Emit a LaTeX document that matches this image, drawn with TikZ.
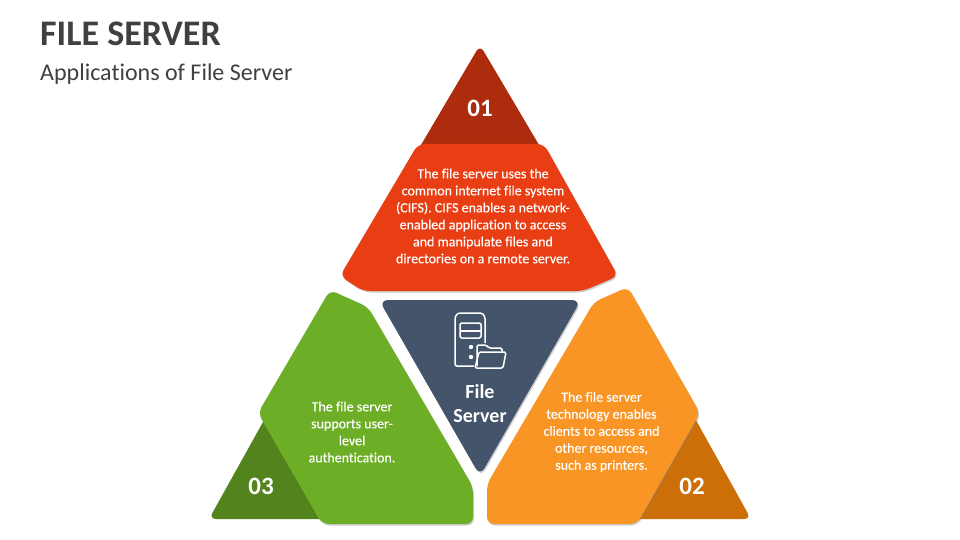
\documentclass[tikz,border=0pt]{standalone}
\usepackage{xcolor}
\usepackage{fontspec}
\setmainfont[Ligatures=NoCommon]{Carlito}
\newfontfamily\bodyfont[FakeBold=0.25,Ligatures=NoCommon]{Carlito}
\usetikzlibrary{shadows,positioning}
\tikzset{every shadow/.style={}}
\definecolor{redmain}{HTML}{E93E14}
\definecolor{reddark}{HTML}{AE2C0E}
\definecolor{greenmain}{HTML}{6DAE27}
\definecolor{greendark}{HTML}{53831D}
\definecolor{orangemain}{HTML}{F99525}
\definecolor{orangedark}{HTML}{CC6F06}
\definecolor{navymain}{HTML}{44546A}
\definecolor{titlegray}{HTML}{404040}
\tikzset{
  panel/.style={rounded corners=7pt, drop shadow={opacity=.4, shadow xshift=1pt, shadow yshift=-1.5pt}},
  tab/.style={rounded corners=7pt},
  bodytext/.style={text=white, align=center, font=\bodyfont\fontsize{14}{17}\selectfont},
  numtext/.style={text=white, font=\bfseries\fontsize{25}{27}\selectfont},
  icon/.style={draw=white, line width=1.5pt, rounded corners=1.5pt, line join=round}
}
\begin{document}
\begin{tikzpicture}[x=1pt,y=-1pt]
  \useasboundingbox (0,0) rectangle (960,540);
  \fill[white] (0,0) rectangle (960,540);
  % title
  \node[anchor=west, inner sep=0pt, text=titlegray, font=\bfseries\fontsize{36}{40}\selectfont] (title) at (40,34) {FILE SERVER};
  \node[anchor=west, inner sep=0pt, text=titlegray, font=\fontsize{24}{28}\selectfont] (subtitle) at (40,74) {Applications of File Server};
  % dark tabs
  \fill[tab, reddark] (480,150) -- (418,150) -- (480,45) -- (542,150) -- cycle;
  \fill[tab, orangedark] (690,519) -- (630,519) -- (692,413) -- (751,519) -- cycle;
  \fill[tab, greendark] (270,519) -- (209,519) -- (268,413) -- (330,519) -- cycle;
  % main panels
  \fill[panel, redmain] (480,144) -- (544,144) -- (618,276) -- (583,291) -- (363,291) -- (340,276) -- (418,144) -- cycle;
  \fill[panel, orangemain] (560,524) -- (637,524) -- (700,413) -- (628,287) -- (594,302) -- (487,484) -- (487,524) -- cycle;
  \fill[panel, greenmain] (400,524) -- (322,524) -- (258,413) -- (330,290) -- (368,307) -- (473,487) -- (473,524) -- cycle;
  \fill[panel, navymain, rounded corners=9pt] (480,300) -- (581,300) -- (480,476) -- (379,300) -- cycle;
  % labels
  \node[numtext] (num01) at (480,108) {01};
  \node[numtext] (num02) at (692,486) {02};
  \node[numtext] (num03) at (261,486) {03};
  \node[bodytext] (text01) at (483,216) {The file server uses the\\common internet file system\\(CIFS). CIFS enables a network-\\enabled application to access\\and manipulate files and\\directories on a remote server.};
  \node[bodytext] (text02) at (601.5,432) {The file server\\technology enables\\clients to access and\\other resources,\\such as printers.};
  \node[bodytext] (text03) at (352,432) {The file server\\supports user-\\level\\authentication.};
  \node[text=white, align=center, font=\bfseries\fontsize{20}{24}\selectfont] (center) at (480,404) {File\\Server};
  % server icon
  \draw[icon] (474,366) -- (455,366) -- (455,317) -- (458,313) -- (482,313) -- (485,317) -- (485,343);
  \draw[icon] (460,323) rectangle (481,338);
  \draw[icon] (460,331) -- (481,331);
  \fill[white] (471,347) circle (2.2) (471,357) circle (2.2);
  \draw[icon] (477,366) -- (477,345) -- (486,345) -- (489,348) -- (502,348) -- (502,352);
  \draw[icon] (475,368) -- (479,352) -- (506,352) -- (503,368) -- cycle;
\end{tikzpicture}
\end{document}
